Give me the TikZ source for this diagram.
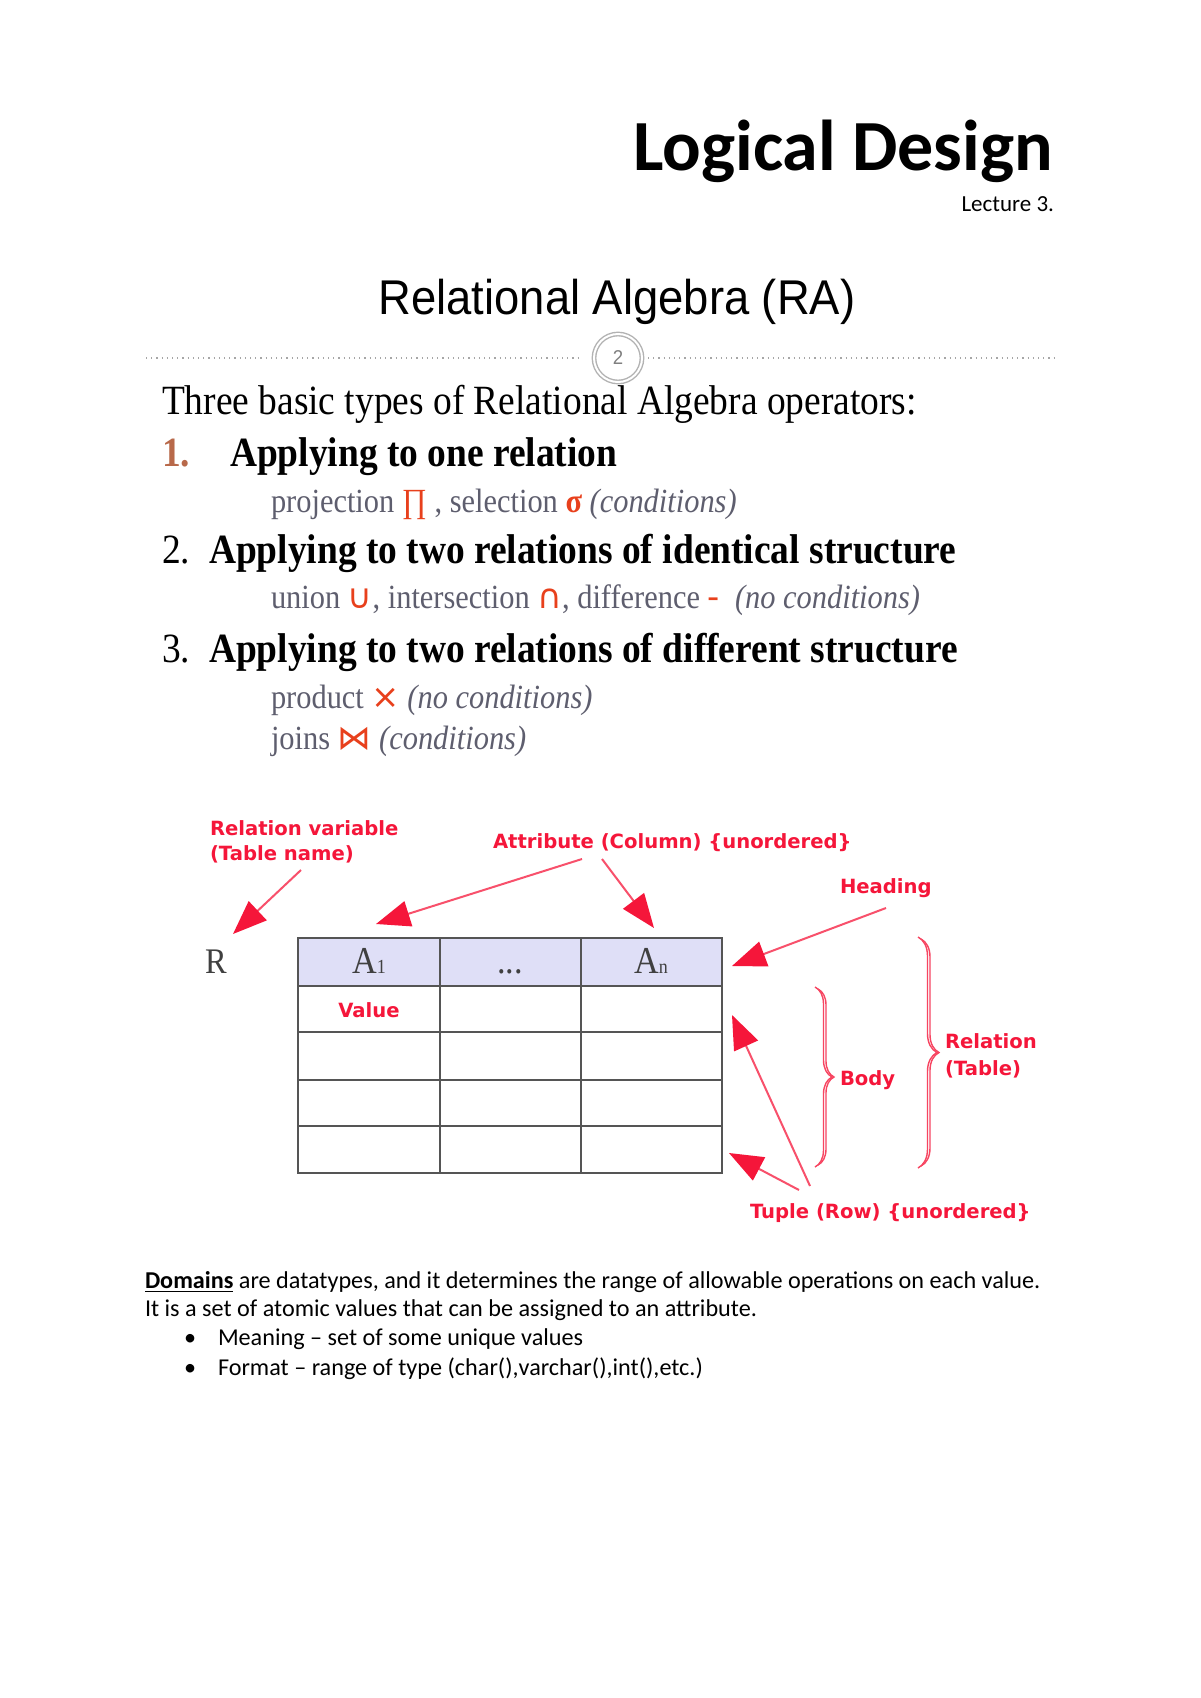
\documentclass[tikz,border=0pt]{standalone}
\usepackage{fontspec}
\setmainfont{Carlito}
\newfontfamily\slideserif{Liberation Serif}[FakeStretch=0.9]
\newfontfamily\slidesans{Liberation Sans}[FakeStretch=0.93]
\newfontfamily\symfont{DejaVu Sans}
\newfontfamily\notefont{DejaVu Sans}
\usetikzlibrary{arrows.meta,decorations.pathreplacing}
\definecolor{opred}{HTML}{E8401C}
\definecolor{subgray}{HTML}{5E5E6E}
\definecolor{numbrown}{HTML}{B8694A}
\definecolor{notered}{HTML}{F5163A}
\definecolor{headfill}{HTML}{DFDFF7}
\definecolor{gridgray}{HTML}{555555}
\tikzset{
  slidetxt/.style={anchor=base west,font=\slideserif\fontsize{20.8}{24}\selectfont},
  slidebold/.style={anchor=base west,font=\slideserif\bfseries\fontsize{20.8}{24}\selectfont},
  subtxt/.style={anchor=base west,text=subgray,font=\slideserif\fontsize{16.9}{20}\selectfont},
  redlbl/.style={anchor=base west,text=notered,font=\notefont\bfseries\fontsize{9.8}{12}\selectfont},
  celltxt/.style={anchor=base,text=black!75,font=\slideserif\fontsize{19}{22}\selectfont},
  bodytxt/.style={anchor=base west,font=\fontsize{12.1}{14.5}\selectfont},
  notearrow/.style={draw=notered!75,line width=1pt,-{Triangle[length=17pt,width=13pt,color=notered]}},
  notebrace/.style={draw=notered!80,line width=0.7pt,decorate,decoration={brace,amplitude=#1}},
  tableline/.style={draw=gridgray,line width=1.2pt}
}
\newcommand{\opsym}[1]{{\color{opred}\symfont #1}}
\newcommand{\opserif}[1]{{\color{opred}#1}}
\begin{document}
\begin{tikzpicture}[x=0.5pt,y=-0.5pt,every node/.style={inner sep=0pt,outer sep=0pt}]
\fill[white] (0,0) rectangle (1200,1698);
\useasboundingbox (0,0) rectangle (1200,1698);
% page heading
\node[anchor=base east,font=\bfseries\fontsize{36}{40}\selectfont] (title) at (1053,170) {Logical Design};
\node[anchor=base east,font=\fontsize{11.5}{14}\selectfont] (lecture) at (1054,211) {Lecture 3.};
% slide
\node[anchor=base,font=\slidesans\fontsize{24.4}{28}\selectfont] (ra) at (617,314) {Relational Algebra (RA)};
\node[circle,draw=gray!60,double,double distance=1pt,line width=0.7pt,minimum size=24pt,text=gray,font=\slidesans\fontsize{10}{12}\selectfont] (pg) at (618,358) {2};
\coordinate (ruleL) at (146,358);
\coordinate (ruleR) at (1056,358);
\draw[gray!70,dotted,line width=0.6pt,shorten >=8pt] (ruleL) -- (pg.west);
\draw[gray!70,dotted,line width=0.6pt,shorten <=3pt] (pg.east) -- (ruleR);
\node[slidetxt] (intro) at (162,414) {Three basic types of Relational Algebra operators:};
\node[slidebold,text=numbrown] (n1) at (162,466) {1.};
\node[slidebold] (op1) at (230,466) {Applying to one relation};
\node[subtxt] (op1sub) at (271,512) {projection \opserif{∏} , selection \opserif{\bfseries σ} \textit{(conditions)}};
\node[slidetxt] (n2) at (162,563) {2.};
\node[slidebold] (op2) at (209,563) {Applying to two relations of identical structure};
\node[subtxt] (op2sub) at (271,608) {union \opsym{∪}, intersection \opsym{∩}, difference \opsym{-}~~\textit{(no conditions)}};
\node[slidetxt] (n3) at (162,662) {3.};
\node[slidebold] (op3) at (209,662) {Applying to two relations of different structure};
\node[subtxt] (op3a) at (271,708) {product \opsym{×}~\textit{(no conditions)}};
\node[subtxt] (op3b) at (271,749) {joins \opsym{⋈}~\textit{(conditions)}};
% relation table
\fill[headfill] (298,938) rectangle (722,986);
\draw[tableline] (298,938) rectangle (722,1173);
\foreach \y in {986,1032,1080,1126} \draw[tableline] (298,\y) -- (722,\y);
\foreach \x in {440,581} \draw[tableline] (\x,938) -- (\x,1173);
\node[celltxt,font=\slideserif\fontsize{18}{20}\selectfont] (rvar) at (216,973) {R};
\node[celltxt] (a1) at (369,973) {A{\fontsize{10}{10}\selectfont 1}};
\node[celltxt] (dots) at (510,973) {...};
\node[celltxt] (an) at (651,973) {A{\fontsize{10}{10}\selectfont n}};
\node[redlbl,anchor=base] (value) at (369,1017) {Value};
% labels
\node[redlbl] (relvar) at (210,835) {Relation variable};
\node[redlbl] (relvarb) at (210,860) {(Table name)};
\node[redlbl] (attr) at (493,848) {Attribute (Column) \{unordered\}};
\node[redlbl] (heading) at (840,893) {Heading};
\node[redlbl] (body) at (840,1085) {Body};
\node[redlbl] (rel) at (945,1048) {Relation};
\node[redlbl] (relb) at (945,1075) {(Table)};
\node[redlbl] (tuple) at (750,1218) {Tuple (Row) \{unordered\}};
% arrows
\coordinate (relvarT) at (301,870);  \coordinate (relvarH) at (233,934);
\coordinate (attrT1) at (582,859);   \coordinate (attrH1) at (376,924);
\coordinate (attrT2) at (602,859);   \coordinate (attrH2) at (654,928);
\coordinate (headT) at (886,908);    \coordinate (headH) at (732,966);
\coordinate (tupT1) at (810,1186);   \coordinate (tupH1) at (732,1015);
\coordinate (tupT2) at (799,1190);   \coordinate (tupH2) at (729,1153);
\draw[notearrow] (relvarT) -- (relvarH);
\draw[notearrow] (attrT1) -- (attrH1);
\draw[notearrow] (attrT2) -- (attrH2);
\draw[notearrow] (headT) -- (headH);
\draw[notearrow] (tupT1) -- (tupH1);
\draw[notearrow] (tupT2) -- (tupH2);
% braces
\draw[notebrace=8.5pt] (815,987) -- (815,1167);
\draw[notebrace=8pt] (818,989) -- (818,1165);
\draw[notebrace=9.5pt] (918,937) -- (918,1168);
\draw[notebrace=9pt] (921,939) -- (921,1166);
% domains
\node[bodytxt] (dom1) at (145,1288) {\textbf{\underline{Domains}} are datatypes, and it determines the range of allowable operations on each value.};
\node[bodytxt] (dom2) at (145,1316) {It is a set of atomic values that can be assigned to an attribute.};
\node[bodytxt] (b1) at (184,1345) {\textbullet};
\node[bodytxt] (mean) at (218,1345) {Meaning – set of some unique values};
\node[bodytxt] (b2) at (184,1375) {\textbullet};
\node[bodytxt] (form) at (218,1375) {Format – range of type (char(),varchar(),int(),etc.)};
\end{tikzpicture}
\end{document}
